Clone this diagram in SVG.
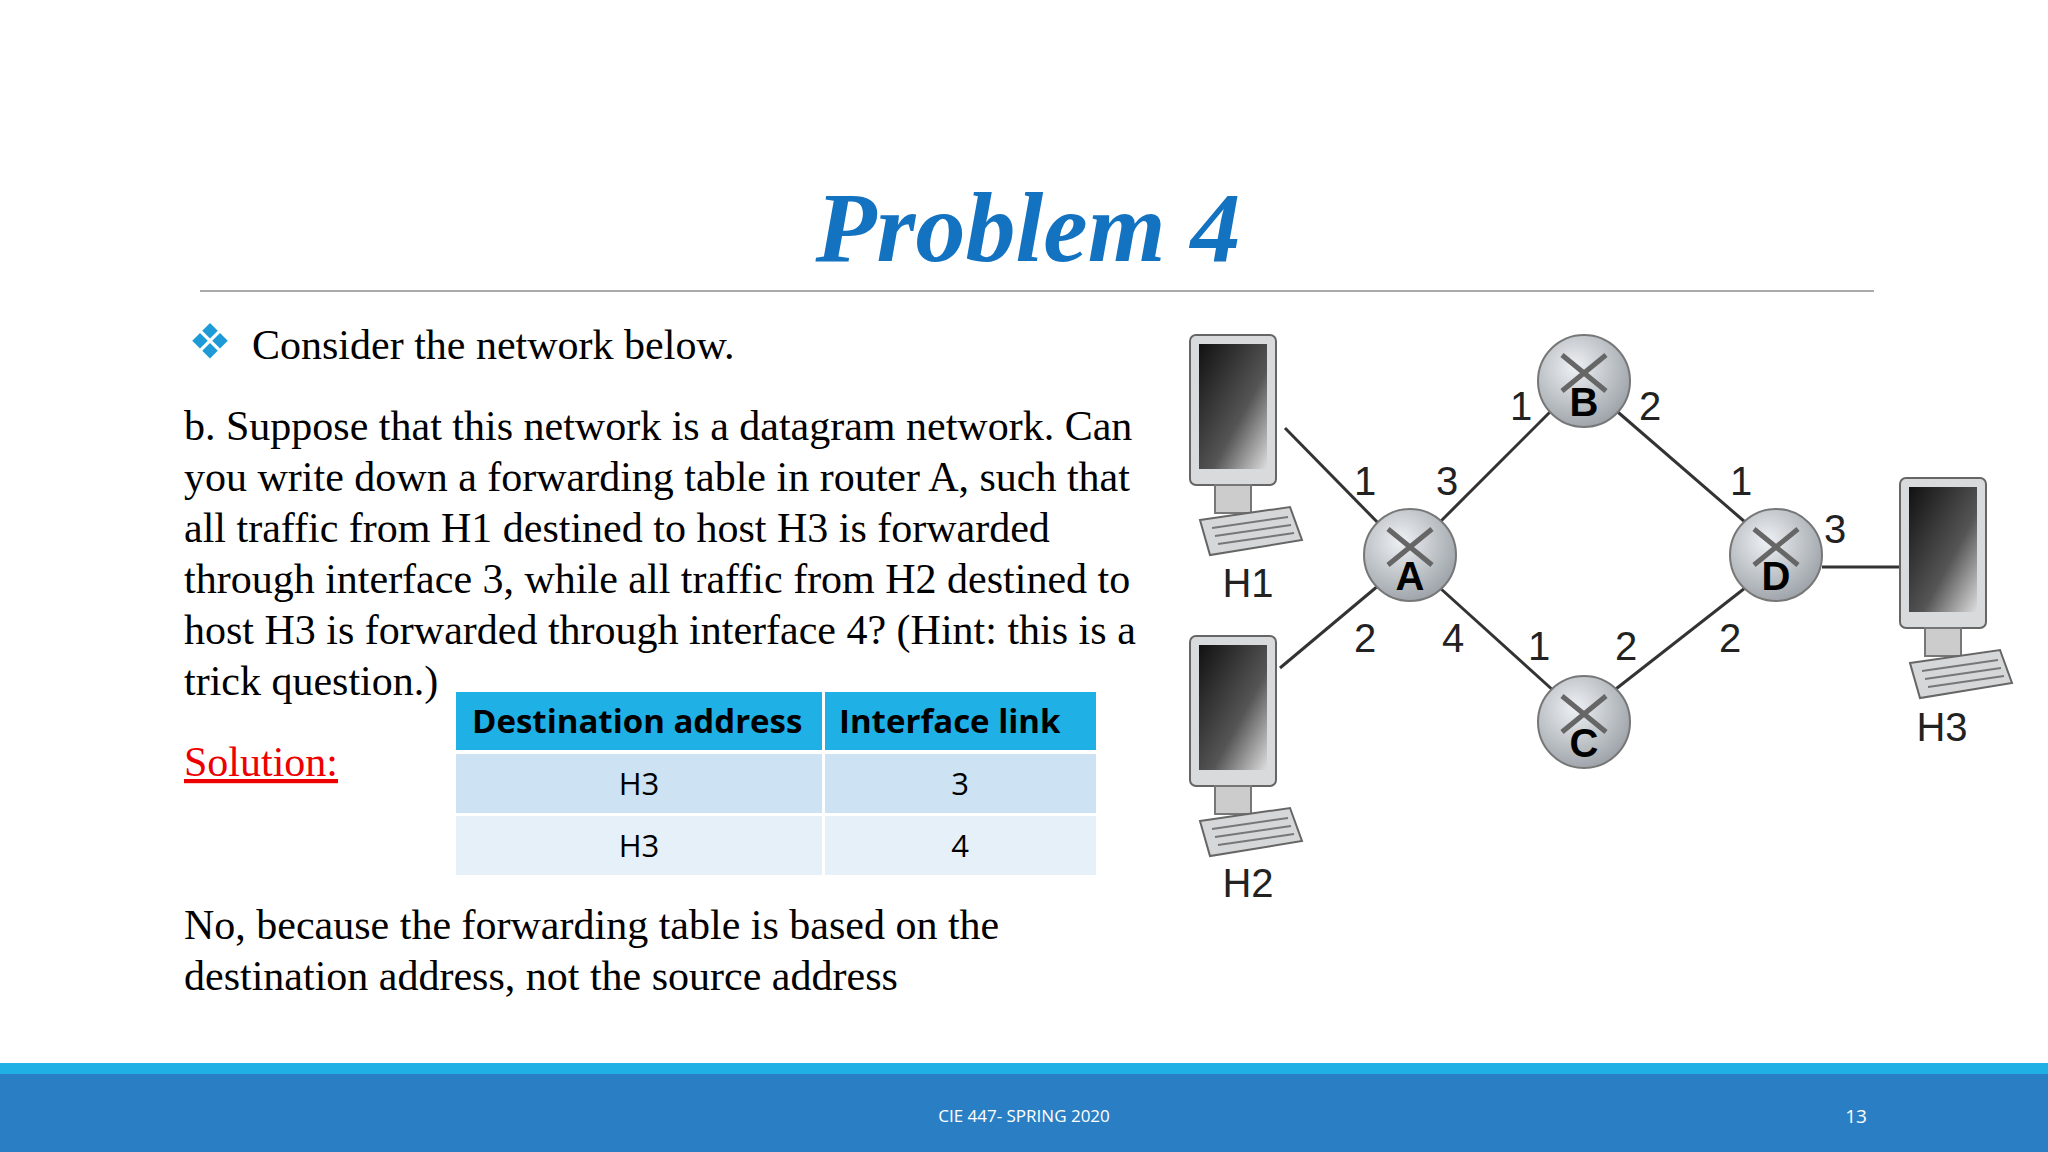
<svg xmlns="http://www.w3.org/2000/svg" width="2048" height="1152" viewBox="0 0 2048 1152">
<defs>
<style>
.body{font-family:"Liberation Serif",serif;font-size:42px;fill:#000}
.lab{font-family:"Liberation Sans Narrow","Liberation Sans",sans-serif;font-size:40px;fill:#222}
.th{font-family:"Open Sans","Liberation Sans",sans-serif;font-size:33px;font-weight:bold;fill:#000}
.td{font-family:"Open Sans","Liberation Sans",sans-serif;font-size:31px;fill:#000}
.link{stroke:#333;stroke-width:3;fill:none}
</style>
<radialGradient id="rg" cx="0.4" cy="0.35" r="0.7"><stop offset="0" stop-color="#eef1f4"/><stop offset="1" stop-color="#9aa0a6"/></radialGradient>
<linearGradient id="scr" x1="0" y1="0" x2="1" y2="1"><stop offset="0" stop-color="#111"/><stop offset="0.6" stop-color="#555"/><stop offset="1" stop-color="#ddd"/></linearGradient>
<g id="router">
<circle r="46" fill="url(#rg)" stroke="#777" stroke-width="2"/>
<path d="M-22,-26 L22,10 M22,-26 L-22,10" stroke="#666" stroke-width="5"/>
</g>
<g id="pc">
<rect x="0" y="0" width="86" height="150" rx="6" fill="#d8dadc" stroke="#666" stroke-width="2"/>
<rect x="9" y="9" width="68" height="125" fill="url(#scr)"/>
<rect x="25" y="150" width="36" height="28" fill="#ccc" stroke="#777" stroke-width="2"/>
<polygon points="10,185 100,172 112,205 20,220" fill="#d5d7d9" stroke="#666" stroke-width="2"/>
<path d="M22,193 L98,182 M25,201 L101,190 M28,209 L104,198" stroke="#777" stroke-width="2"/>
</g>
</defs>
<rect width="2048" height="1152" fill="#fff"/>
<text x="1028" y="261" text-anchor="middle" font-family="Liberation Serif,serif" font-size="100" font-weight="bold" font-style="italic" fill="#1473c0">Problem 4</text>
<line x1="200" y1="291" x2="1874" y2="291" stroke="#aaa" stroke-width="2"/>
<g fill="#1e9bd7"><rect x="205" y="325" width="11" height="11" transform="rotate(45 210 330)"/><rect x="195" y="335" width="11" height="11" transform="rotate(45 200 340)"/><rect x="215" y="335" width="11" height="11" transform="rotate(45 220 340)"/><rect x="205" y="345" width="11" height="11" transform="rotate(45 210 350)"/></g>
<text class="body" x="252" y="359">Consider the network below.</text>
<text class="body" x="184" y="440">b. Suppose that this network is a datagram network. Can</text>
<text class="body" x="184" y="491">you write down a forwarding table in router A, such that</text>
<text class="body" x="184" y="542">all traffic from H1 destined to host H3 is forwarded</text>
<text class="body" x="184" y="593">through interface 3, while all traffic from H2 destined to</text>
<text class="body" x="184" y="644">host H3 is forwarded through interface 4? (Hint: this is a</text>
<text class="body" x="184" y="695">trick question.)</text>
<text class="body" x="184" y="776" text-decoration="underline" style="fill:#e00">Solution:</text>
<g id="table">
<rect x="456" y="692" width="366" height="58" fill="#1fb0e6"/><rect x="825" y="692" width="271" height="58" fill="#1fb0e6"/>
<rect x="456" y="754" width="366" height="59" fill="#cde3f4"/><rect x="825" y="754" width="271" height="59" fill="#cde3f4"/>
<rect x="456" y="816" width="366" height="59" fill="#e6f0f9"/><rect x="825" y="816" width="271" height="59" fill="#e6f0f9"/>
<text class="th" x="472" y="733">Destination address</text><text class="th" x="839" y="733">Interface link</text>
<text class="td" x="639" y="795" text-anchor="middle">H3</text><text class="td" x="960" y="795" text-anchor="middle">3</text>
<text class="td" x="639" y="857" text-anchor="middle">H3</text><text class="td" x="960" y="857" text-anchor="middle">4</text>
</g>
<text class="body" x="184" y="939">No, because the forwarding table is based on the</text>
<text class="body" x="184" y="990">destination address, not the source address</text>
<g id="connectors">
<line class="link" x1="1285" y1="428" x2="1385" y2="530"/>
<line class="link" x1="1280" y1="668" x2="1385" y2="580"/>
<line class="link" x1="1440" y1="522" x2="1555" y2="407"/>
<line class="link" x1="1612" y1="407" x2="1745" y2="522"/>
<line class="link" x1="1440" y1="588" x2="1555" y2="692"/>
<line class="link" x1="1612" y1="692" x2="1745" y2="588"/>
<line class="link" x1="1822" y1="567" x2="1915" y2="567"/>
</g>
<g id="H1"><use href="#pc" x="1190" y="335"/><text class="lab" x="1248" y="597" text-anchor="middle">H1</text></g>
<g id="H2"><use href="#pc" x="1190" y="636"/><text class="lab" x="1248" y="897" text-anchor="middle">H2</text></g>
<g id="H3"><use href="#pc" x="1900" y="478"/><text class="lab" x="1942" y="741" text-anchor="middle">H3</text></g>
<g id="A"><use href="#router" x="1410" y="555"/><text class="lab" x="1410" y="590" text-anchor="middle" font-weight="bold" style="fill:#000">A</text></g>
<g id="B"><use href="#router" x="1584" y="381"/><text class="lab" x="1584" y="416" text-anchor="middle" font-weight="bold" style="fill:#000">B</text></g>
<g id="C"><use href="#router" x="1584" y="722"/><text class="lab" x="1584" y="757" text-anchor="middle" font-weight="bold" style="fill:#000">C</text></g>
<g id="D"><use href="#router" x="1776" y="555"/><text class="lab" x="1776" y="590" text-anchor="middle" font-weight="bold" style="fill:#000">D</text></g>
<g class="lab" text-anchor="middle">
<text x="1365" y="495">1</text><text x="1447" y="495">3</text>
<text x="1365" y="652">2</text><text x="1453" y="652">4</text>
<text x="1521" y="420">1</text><text x="1650" y="420">2</text>
<text x="1741" y="495">1</text><text x="1835" y="543">3</text><text x="1730" y="652">2</text>
<text x="1539" y="660">1</text><text x="1626" y="660">2</text>
</g>
<rect x="0" y="1063" width="2048" height="11" fill="#1fb0e6"/>
<rect x="0" y="1074" width="2048" height="78" fill="#2a7fc4"/>
<text x="1024" y="1122" text-anchor="middle" font-family="Open Sans,Liberation Sans,sans-serif" font-size="17" fill="#fff">CIE 447- SPRING 2020</text>
<text x="1856" y="1123" text-anchor="middle" font-family="Open Sans,Liberation Sans,sans-serif" font-size="19" fill="#fff">13</text>
</svg>
